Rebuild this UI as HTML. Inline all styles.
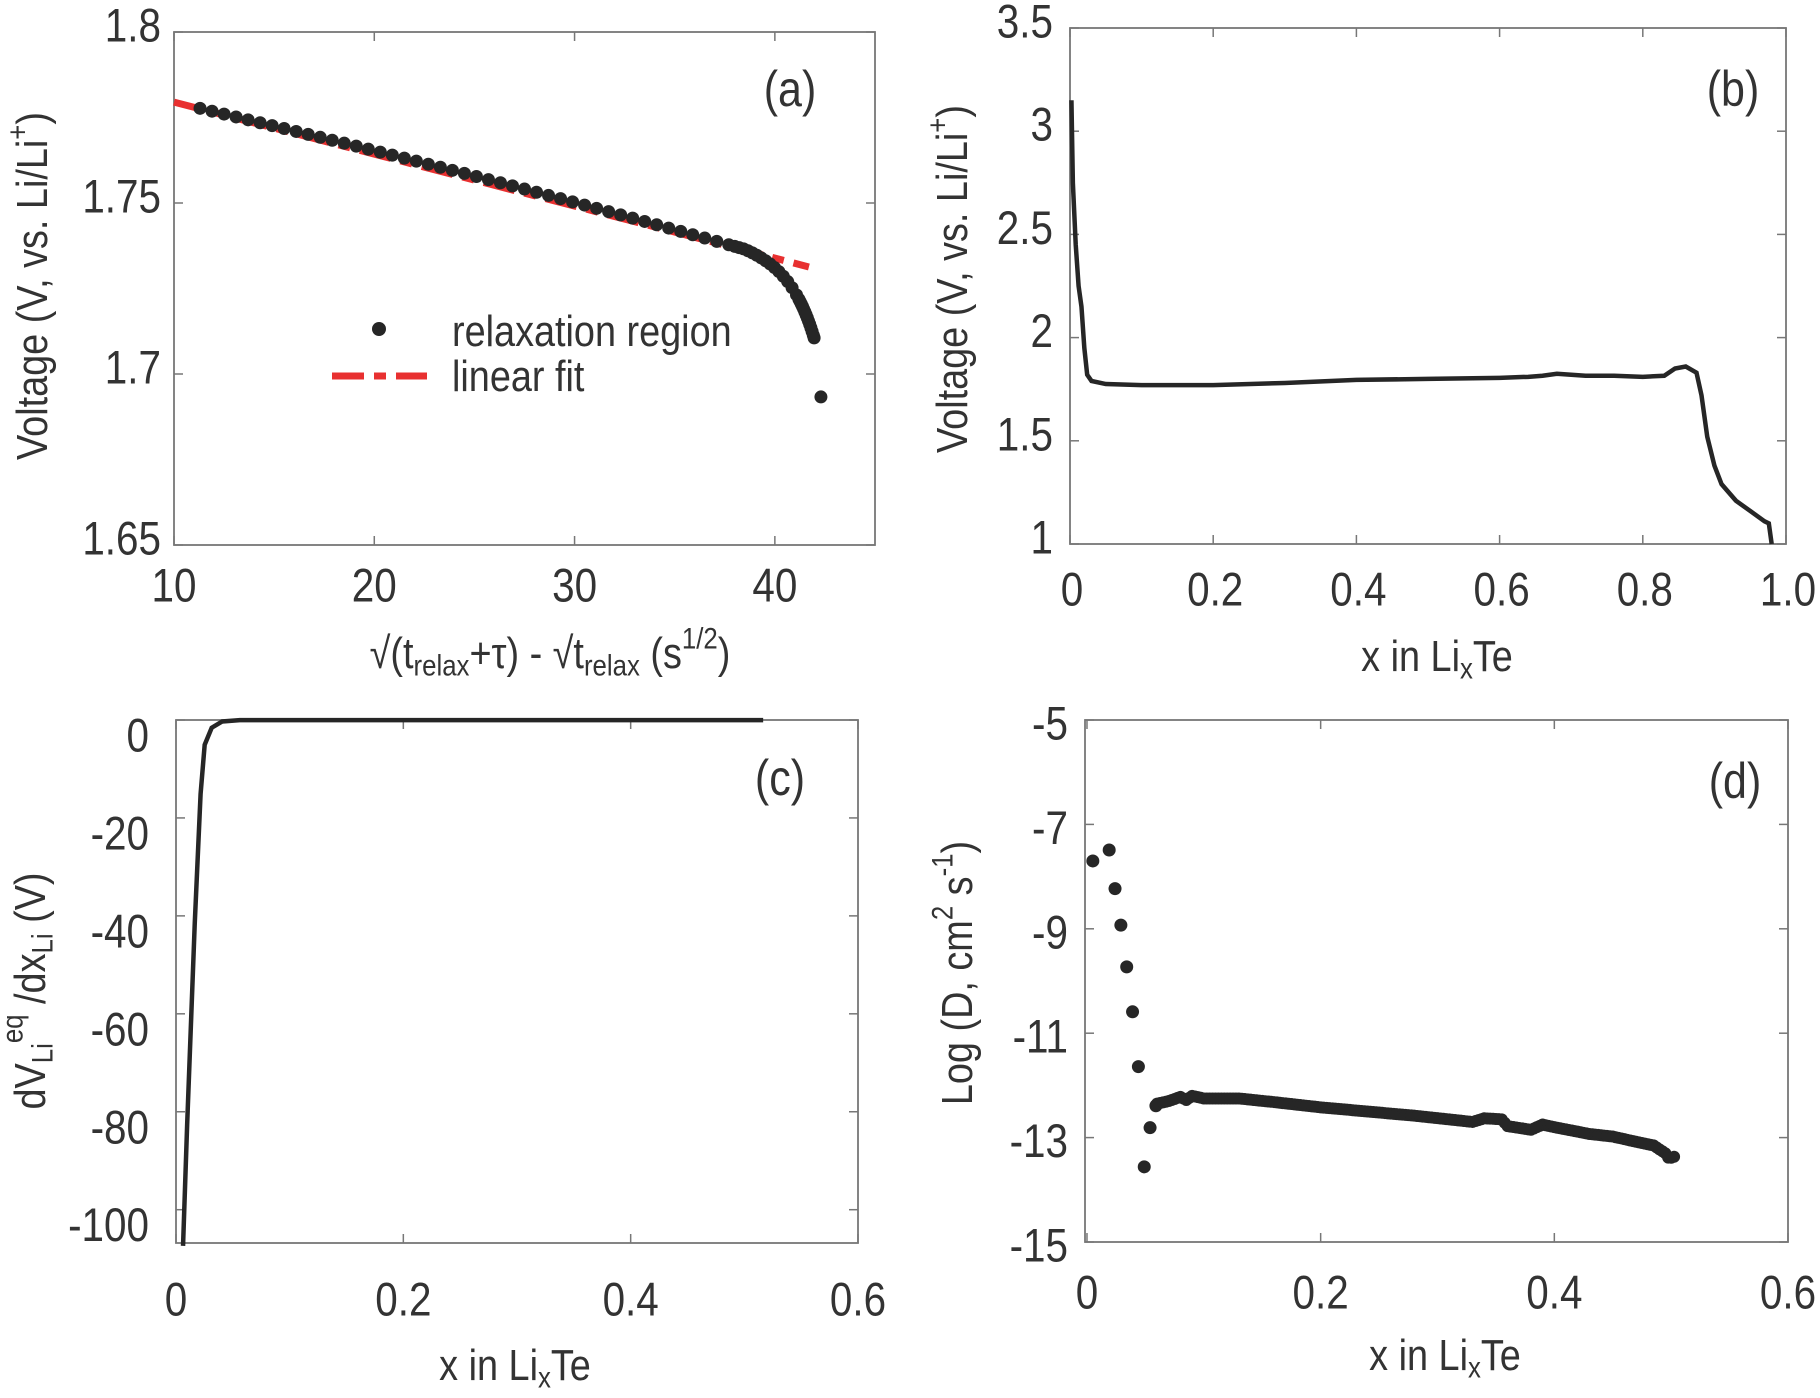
<!DOCTYPE html>
<html><head><meta charset="utf-8"><style>
html,body{margin:0;padding:0;background:#fff;}
svg{display:block;font-family:"Liberation Sans",sans-serif;}
</style></head><body>
<svg id="s" width="1820" height="1398" viewBox="0 0 1820 1398" xmlns="http://www.w3.org/2000/svg"></svg>
<script>
const S=document.getElementById('s');const NS='http://www.w3.org/2000/svg';
function el(t,a,p){const e=document.createElementNS(NS,t);for(const k in a)e.setAttribute(k,a[k]);(p||S).appendChild(e);return e;}
function txt(x,y,s,anchor,size,rot){const g=el('g',{transform:`translate(${x},${y})`+(rot?` rotate(${rot})`:'')+' scale(0.86,1)'});
 const t=el('text',{x:0,y:0,'text-anchor':anchor||'middle','dominant-baseline':'central','font-size':size||44,fill:'#333'},g);t.innerHTML=s;return t;}
function panel(P){
 const {L,R,T,B,x0,x1,y0,y1}=P;
 const X=v=>L+(v-x0)/(x1-x0)*(R-L), Y=v=>B-(v-y0)/(y1-y0)*(B-T);
 P.X=X;P.Y=Y;
 el('rect',{x:L,y:T,width:R-L,height:B-T,fill:'none',stroke:'#777','stroke-width':1.8});
 P.xt.forEach(v=>{const x=X(v);el('line',{x1:x,y1:B,x2:x,y2:B-9,stroke:'#777','stroke-width':1.5});el('line',{x1:x,y1:T,x2:x,y2:T+9,stroke:'#777','stroke-width':1.5});});
 P.yt.forEach(v=>{const y=Y(v);el('line',{x1:L,y1:y,x2:L+9,y2:y,stroke:'#777','stroke-width':1.5});el('line',{x1:R,y1:y,x2:R-9,y2:y,stroke:'#777','stroke-width':1.5});});
 return P;
}
const TS=47, AS=44;
// Panel a
const A=panel({L:174,R:875,T:32,B:545,x0:10,x1:45,y0:1.65,y1:1.8,xt:[10,20,30,40],yt:[1.65,1.7,1.75,1.8]});
[['1.8',1.8],['1.75',1.75],['1.7',1.7],['1.65',1.65]].forEach(([s,v])=>txt(161,A.Y(v)-6,s,'end',TS));
[10,20,30,40].forEach(v=>txt(A.X(v),586,String(v),'middle',TS));
txt(550,653,'√(t<tspan dy="12" font-size="30">relax</tspan><tspan dy="-12">+τ) - √t</tspan><tspan dy="12" font-size="30">relax</tspan><tspan dy="-12"> (s</tspan><tspan dy="-15" font-size="30">1/2</tspan><tspan dy="15">)</tspan>','middle',AS);
txt(32,286,'Voltage (V, vs. Li/Li<tspan dy="-15" font-size="30">+</tspan><tspan dy="15">)</tspan>','middle',AS,-90);
txt(790,89,'(a)','middle',50);
el('line',{x1:A.X(10),y1:A.Y(1.7795),x2:A.X(41.7),y2:A.Y(1.7313),stroke:'#e83030','stroke-width':7,'stroke-dasharray':'32 10 12 10'});
(function(){let xs=[];for(let x=11.3;x<38;x+=0.6)xs.push(x);for(let x=38;x<41.2;x+=0.22)xs.push(x);for(let x=41.2;x<41.96;x+=0.06)xs.push(x);xs.push(41.96);
 xs.forEach(x=>{let v=1.7795-0.00152*(x-10)+0.0012*Math.sin((x-10)/31*Math.PI);if(x>38.5)v-=0.0012*(Math.exp((x-38.5)/1.2)-1);
  el('circle',{cx:A.X(x),cy:A.Y(v),r:6.5,fill:'#262626'});});
 el('circle',{cx:A.X(42.3),cy:A.Y(1.6933),r:6.5,fill:'#262626'});})();
el('circle',{cx:379,cy:329,r:7,fill:'#262626'});
txt(452,331,'relaxation region','start',AS);
el('line',{x1:332,y1:376,x2:427,y2:376,stroke:'#e83030','stroke-width':7,'stroke-dasharray':'32 10 12 10'});
txt(452,376,'linear fit','start',AS);
// Panel b
const Bp=panel({L:1070,R:1786,T:28,B:544,x0:0,x1:1,y0:1,y1:3.5,xt:[0,0.2,0.4,0.6,0.8,1],yt:[1,1.5,2,2.5,3,3.5]});
[['3.5',3.5],['3',3],['2.5',2.5],['2',2],['1.5',1.5],['1',1]].forEach(([s,v])=>txt(1053,Bp.Y(v)-6,s,'end',TS));
[['0',0],['0.2',0.2],['0.4',0.4],['0.6',0.6],['0.8',0.8],['1.0',1]].forEach(([s,v])=>txt(Bp.X(v)+2,590,s,'middle',TS));
txt(1437,656,'x in Li<tspan dy="12" font-size="30">x</tspan><tspan dy="-12">Te</tspan>','middle',AS);
txt(952,279,'Voltage (V, vs. Li/Li<tspan dy="-15" font-size="30">+</tspan><tspan dy="15">)</tspan>','middle',AS,-90);
txt(1733,89,'(b)','middle',50);
(function(){const pts=[[0.002,3.15],[0.004,2.75],[0.008,2.45],[0.012,2.25],[0.016,2.15],[0.02,1.95],[0.024,1.82],[0.03,1.79],[0.05,1.775],[0.1,1.77],[0.2,1.77],[0.3,1.78],[0.4,1.795],[0.5,1.8],[0.6,1.805],[0.64,1.81],[0.66,1.815],[0.68,1.825],[0.7,1.82],[0.72,1.815],[0.76,1.815],[0.8,1.81],[0.83,1.815],[0.845,1.85],[0.86,1.86],[0.875,1.83],[0.882,1.72],[0.89,1.52],[0.9,1.38],[0.91,1.29],[0.93,1.21],[0.95,1.16],[0.97,1.11],[0.976,1.1],[0.98,1.0]];
 el('polyline',{points:pts.map(p=>Bp.X(p[0])+','+Bp.Y(p[1])).join(' '),fill:'none',stroke:'#262626','stroke-width':4.5});})();
// Panel c
const C=panel({L:176,R:858,T:720,B:1243,x0:0,x1:0.6,y0:-106.8,y1:0,xt:[0,0.2,0.4,0.6],yt:[-100,-80,-60,-40,-20,0]});
[0,-20,-40,-60,-80,-100].forEach(v=>txt(149,C.Y(v)+16,String(v),'end',TS));
[['0',0],['0.2',0.2],['0.4',0.4],['0.6',0.6]].forEach(([s,v])=>txt(C.X(v),1300,s,'middle',TS));
txt(515,1365,'x in Li<tspan dy="12" font-size="30">x</tspan><tspan dy="-12">Te</tspan>','middle',AS);
txt(30,991,'dV<tspan dy="12" font-size="30">Li</tspan><tspan dy="-30" font-size="30">eq</tspan><tspan dy="18"> /dx</tspan><tspan dy="12" font-size="30">Li</tspan><tspan dy="-12"> (V)</tspan>','middle',AS,-90);
txt(780,778,'(c)','middle',50);
(function(){const z=[[313,1220],[320,950],[333,500],[343,210],[350,100],[362,62],[380,48],[410,45],[1305,45]];
 el('polyline',{points:z.map(p=>(p[0]/1.71)+','+(700+p[1]/2.235)).join(' '),fill:'none',stroke:'#262626','stroke-width':4.5});})();
// Panel d
const D=panel({L:1085,R:1788,T:720,B:1242,x0:-0.0017,x1:0.6,y0:-15,y1:-5,xt:[0,0.2,0.4,0.6],yt:[-15,-13,-11,-9,-7,-5]});
[-5,-7,-9,-11,-13,-15].forEach(v=>txt(1068,D.Y(v)+4,String(v),'end',TS));
[['0',0],['0.2',0.2],['0.4',0.4],['0.6',0.6]].forEach(([s,v])=>txt(D.X(v),1293,s,'middle',TS));
txt(1445,1355,'x in Li<tspan dy="12" font-size="30">x</tspan><tspan dy="-12">Te</tspan>','middle',AS);
txt(957,973,'Log (D, cm<tspan dy="-15" font-size="30">2</tspan><tspan dy="15"> s</tspan><tspan dy="-15" font-size="30">-1</tspan><tspan dy="15">)</tspan>','middle',AS,-90);
txt(1735,781,'(d)','middle',50);
(function(){const first=[[.005,-7.70],[.019,-7.49],[.024,-8.23],[.029,-8.93],[.034,-9.73],[.039,-10.59],[.044,-11.64],[.049,-13.56],[.054,-12.81],[.059,-12.39]];
 first.forEach(p=>el('circle',{cx:D.X(p[0]),cy:D.Y(p[1]),r:6.5,fill:'#262626'}));
 const k=[[.06,-12.35],[.07,-12.3],[.08,-12.22],[.085,-12.28],[.09,-12.2],[.1,-12.25],[.13,-12.25],[.16,-12.32],[.2,-12.42],[.24,-12.5],[.28,-12.58],[.33,-12.7],[.34,-12.63],[.355,-12.65],[.36,-12.78],[.38,-12.85],[.39,-12.75],[.4,-12.8],[.43,-12.93],[.45,-12.98],[.47,-13.08],[.485,-13.15],[.495,-13.3],[.498,-13.4],[.505,-13.35]];
 for(let x=0.06;x<=0.505;x+=0.0025){let i=0;while(i<k.length-2&&k[i+1][0]<x)i++;const a=k[i],b=k[i+1];const v=a[1]+(b[1]-a[1])*Math.min(1,Math.max(0,(x-a[0])/(b[0]-a[0])));
  el('circle',{cx:D.X(x),cy:D.Y(v),r:6,fill:'#262626'});}})();
</script>
</body></html>
